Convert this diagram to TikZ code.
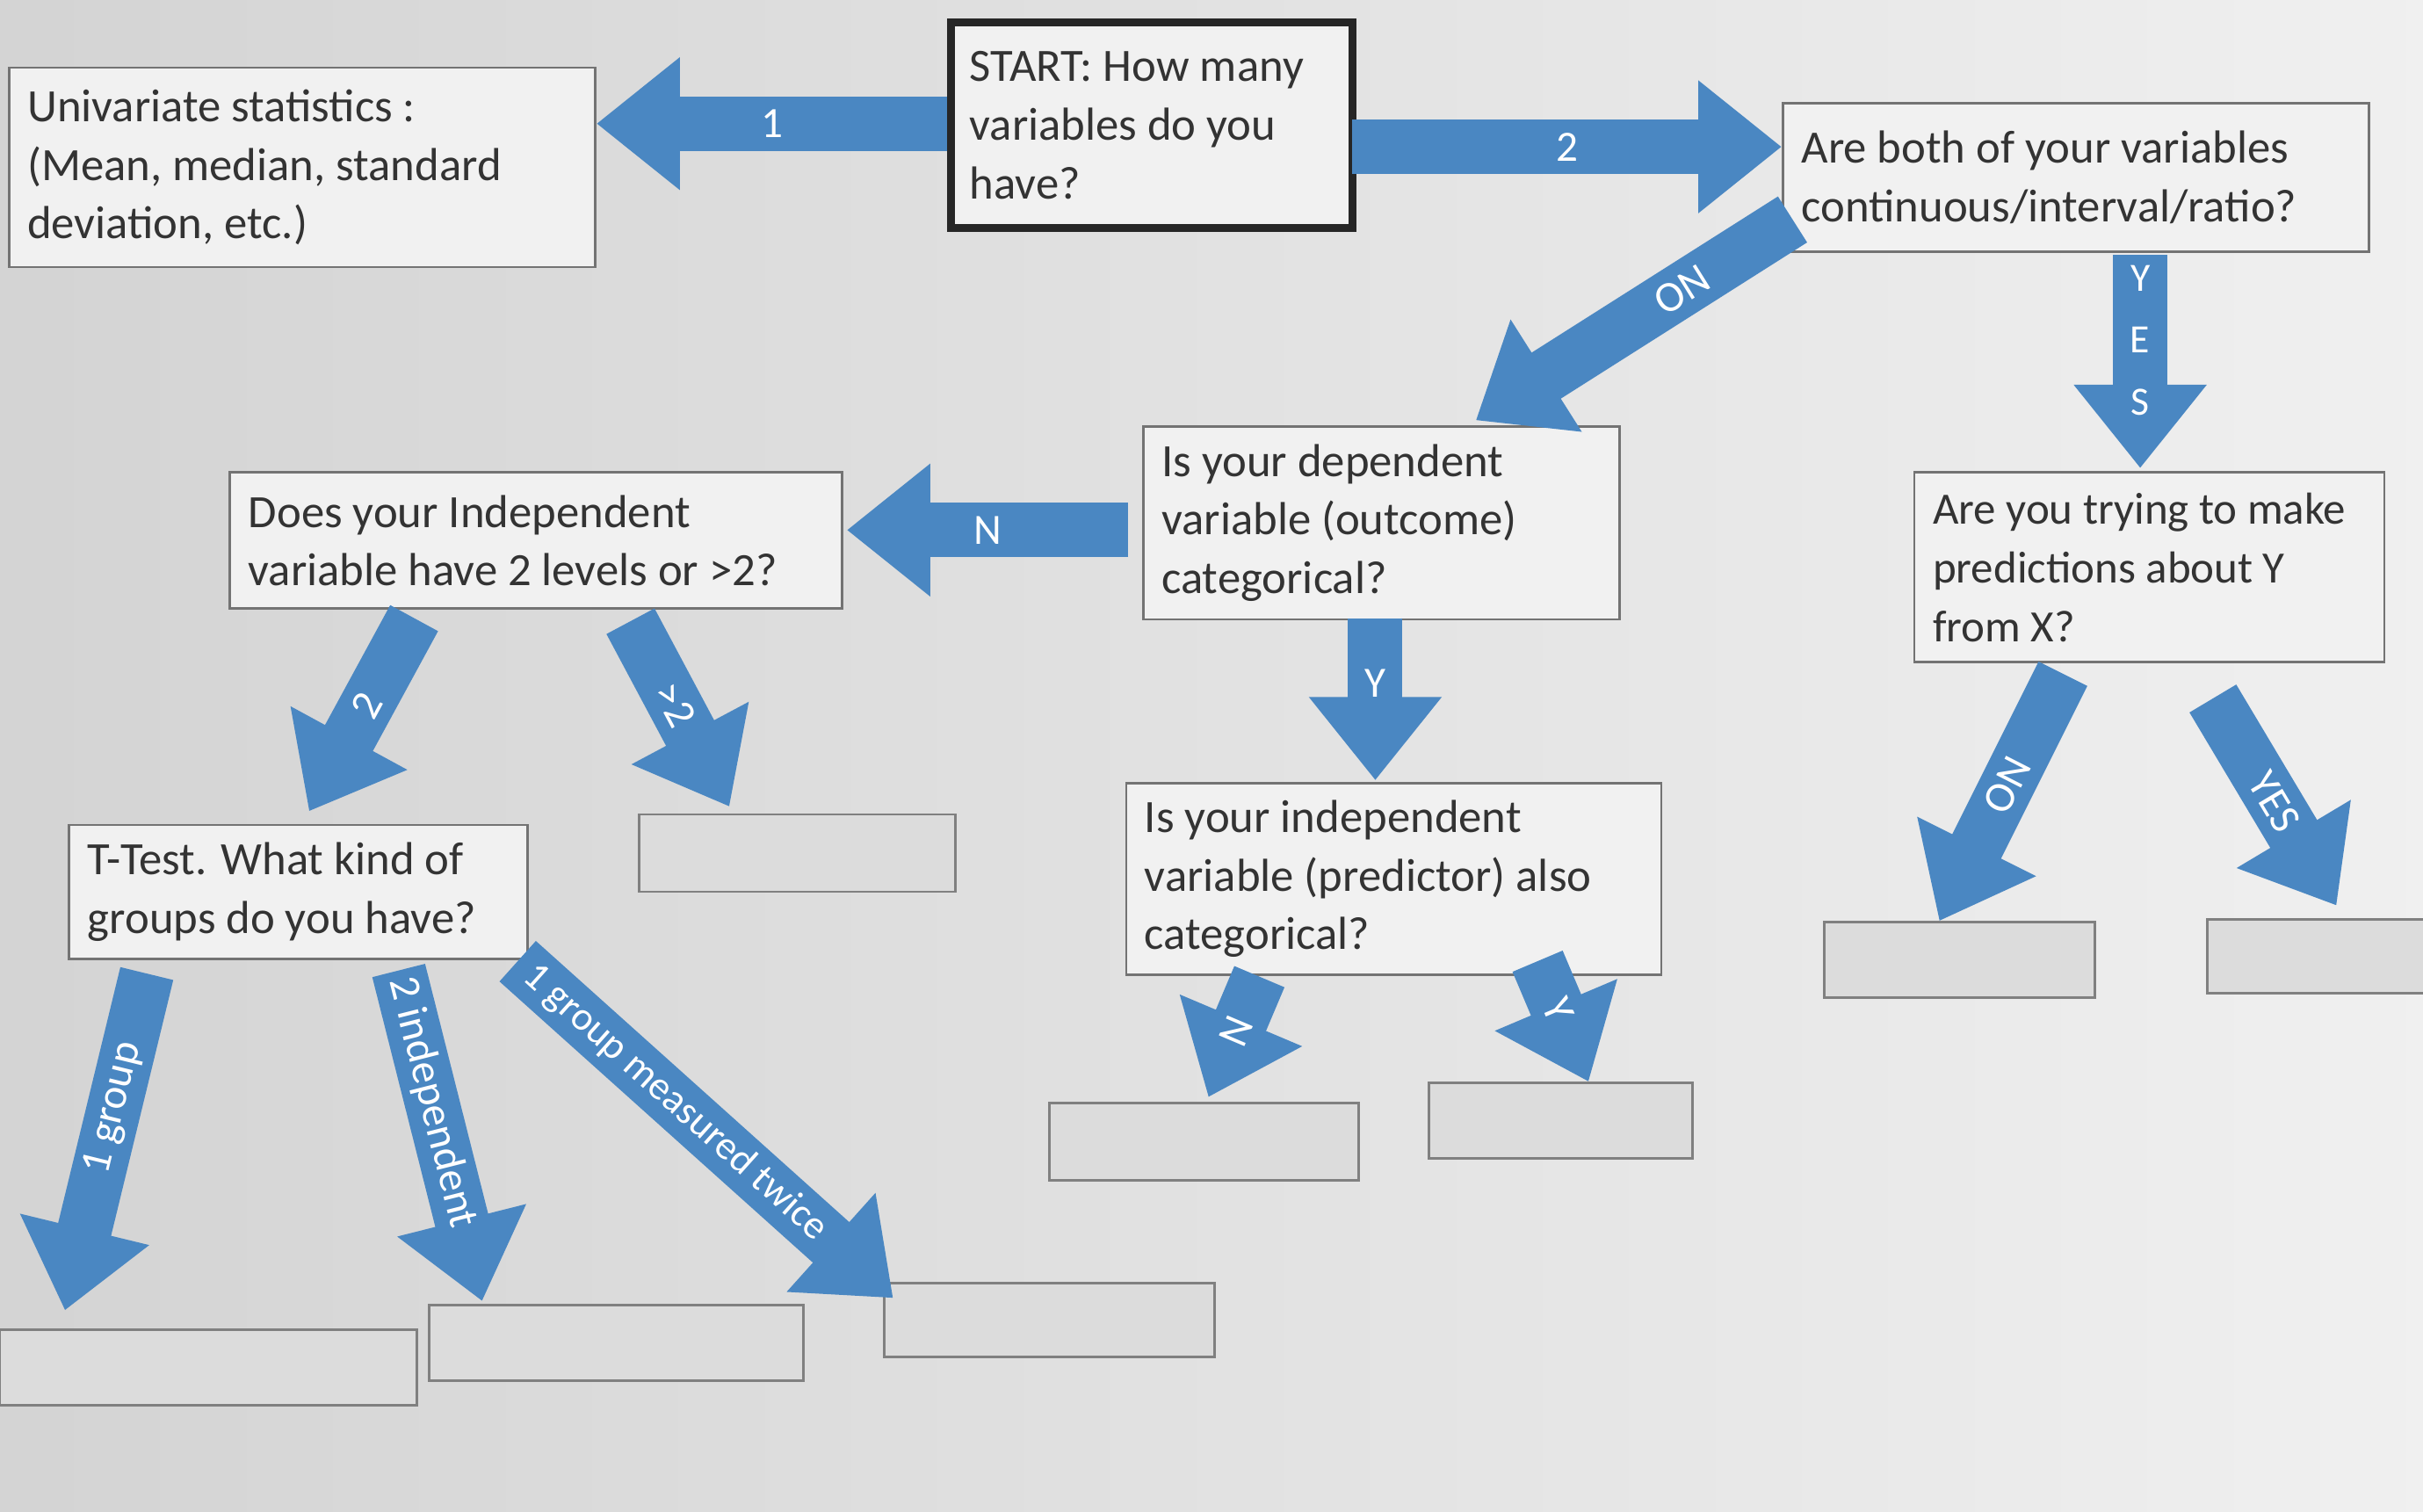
\documentclass[tikz,border=0pt]{standalone}
\usepackage{fontspec}
\setmainfont{Carlito}
\usetikzlibrary{arrows.meta,calc}
\definecolor{flowblue}{HTML}{4A87C2}
\definecolor{boxgray}{HTML}{DCDCDC}
\definecolor{paper}{HTML}{F1F1F1}

\begin{document}
\begin{tikzpicture}[
    x=0.01759cm, y=-0.01759cm,
    question/.style={rectangle, draw=black!55, fill=paper, thick, inner xsep=6pt, inner ysep=4pt, align=flush left, anchor=north west, font=\fontsize{15}{19}\selectfont, text=black!80},
    blank/.style={rectangle, draw=black!50, fill=boxgray, thick},
    flow/.style={draw=flowblue, line width=0.62cm, line cap=butt, -{Triangle[width=1.45cm,length=0.95cm]}},
    tag/.style={text=white, font=\fontsize{14}{14}\selectfont}
]

% background
\useasboundingbox (0,0) rectangle (1568,978);
\shade[left color=black!17, right color=black!6] (0,0) rectangle (1568,978);

% question boxes
\node[question, text width=6.25cm, minimum height=2.27cm] (uni) at (5,43) {Univariate statistics :\\(Mean, median, standard\\deviation, etc.)};
\node[question, draw=black!85, line width=2.5pt, text width=4.15cm, minimum height=2.34cm] (start) at (613,12) {START: How many\\variables do you\\have?};
\node[question, text width=6.25cm, minimum height=1.69cm] (both) at (1153,66) {Are both of your variables\\continuous/interval/ratio?};
\node[question, text width=5.0cm, minimum height=2.2cm] (dep) at (739,275) {Is your dependent\\variable (outcome)\\categorical?};
\node[question, text width=6.55cm, minimum height=1.55cm] (levels) at (148,305) {Does your Independent\\variable have 2 levels or >2?};
\node[question, text width=4.93cm, minimum height=2.16cm, font=\fontsize{14.5}{19}\selectfont] (predict) at (1238,305) {Are you trying to make\\predictions about Y\\from X?};
\node[question, text width=4.8cm, minimum height=1.53cm] (ttest) at (44,533) {T-Test. What kind of\\groups do you have?};
\node[question, text width=5.67cm, minimum height=2.18cm] (indep) at (728,506) {Is your independent\\variable (predictor) also\\categorical?};

% empty answer boxes
\node[blank, minimum width=3.6cm, minimum height=0.88cm] (more) at (516,552) {};
\node[blank, minimum width=3.52cm, minimum height=0.88cm] (catno) at (779,739) {};
\node[blank, minimum width=3.0cm, minimum height=0.86cm] (catyes) at (1010,725) {};
\node[blank, minimum width=3.08cm, minimum height=0.86cm] (predno) at (1268,621) {};
\node[blank, minimum width=2.7cm, minimum height=0.84cm] (predyes) at (1505,619) {};
\node[blank, minimum width=4.75cm, minimum height=0.86cm] (onegroup) at (135,885) {};
\node[blank, minimum width=4.26cm, minimum height=0.86cm] (twogroup) at (399,869) {};
\node[blank, minimum width=3.76cm, minimum height=0.84cm] (paired) at (679,854) {};

% arrow ends
\coordinate (s1) at (613,80);   \coordinate (t1) at (386,80);
\coordinate (s2) at (875,95);   \coordinate (t2) at (1153,95);
\coordinate (s3) at (1160,142); \coordinate (t3) at (955,272);
\coordinate (s4) at (1385,165); \coordinate (t4) at (1385,303);
\coordinate (s5) at (730,343);  \coordinate (t5) at (548,343);
\coordinate (s6) at (890,400);  \coordinate (t6) at (890,505);
\coordinate (s7) at (268,400);  \coordinate (t7) at (200,525);
\coordinate (s8) at (408,402);  \coordinate (t8) at (472,522);
\coordinate (s9) at (1335,436); \coordinate (t9) at (1255,596);
\coordinate (s10) at (1432,452); \coordinate (t10) at (1512,586);
\coordinate (s11) at (815,632); \coordinate (t11) at (782,710);
\coordinate (s12) at (995,622); \coordinate (t12) at (1028,700);
\coordinate (s13) at (95,630);  \coordinate (t13) at (42,848);
\coordinate (s14) at (258,628); \coordinate (t14) at (312,842);
\coordinate (s15) at (335,622); \coordinate (t15) at (578,840);

% block arrows
\draw[flow] (s1) -- node[tag] {1} (t1);
\draw[flow] (s2) -- node[tag] {2} (t2);
\draw[flow] (s3) -- node[tag, rotate=212, pos=0.35] {NO} (t3);
\draw[flow] (s4) -- node[tag, align=center, font=\fontsize{13}{20}\selectfont, pos=0.4] {Y\\E\\S} (t4);
\draw[flow] (s5) -- node[tag] {N} (t5);
\draw[flow] (s6) -- node[tag, pos=0.4] {Y} (t6);
\draw[flow] (s7) -- node[tag, sloped, pos=0.45] {2} (t7);
\draw[flow] (s8) -- node[tag, sloped, pos=0.45] {>2} (t8);
\draw[flow] (s9) -- node[tag, rotate=243, pos=0.45] {NO} (t9);
\draw[flow] (s10) -- node[tag, sloped, pos=0.5] {YES} (t10);
\draw[flow] (s11) -- node[tag, sloped, pos=0.45] {N} (t11);
\draw[flow] (s12) -- node[tag, sloped, pos=0.4] {Y} (t12);
\draw[flow] (s13) -- node[tag, sloped, pos=0.4] {1 group} (t13);
\draw[flow] (s14) -- node[tag, sloped, pos=0.4] {2 independent} (t14);
\draw[flow] (s15) -- node[tag, sloped, pos=0.42, font=\fontsize{13}{13}\selectfont] {1 group measured twice} (t15);

\end{tikzpicture}
\end{document}
